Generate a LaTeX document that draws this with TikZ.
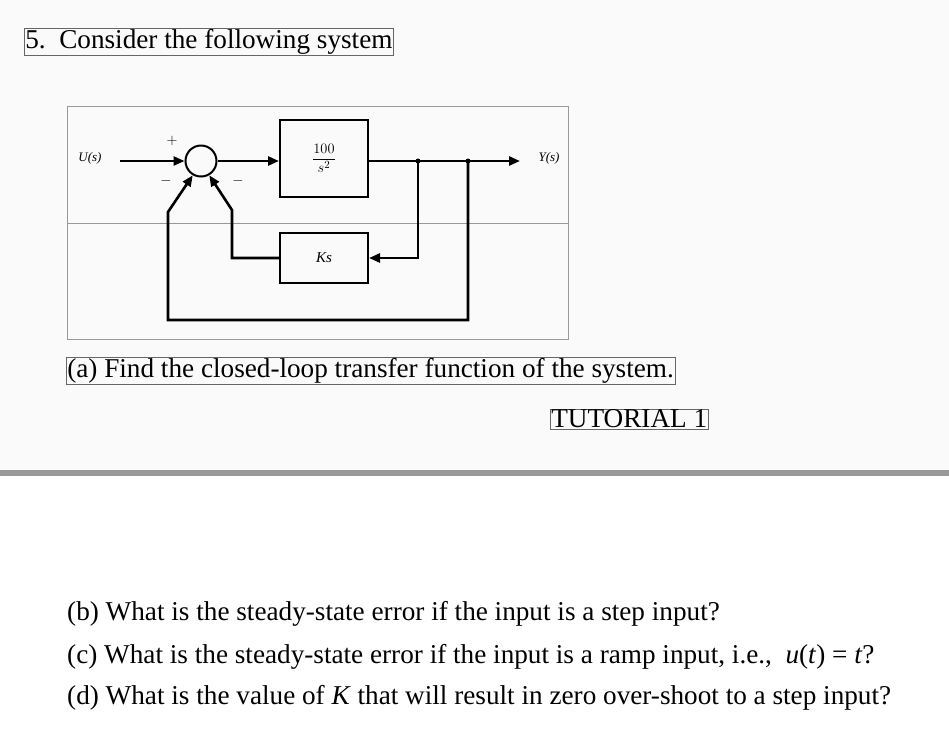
\documentclass[tikz,border=0pt]{standalone}
\usepackage{fontspec}
\setmainfont{Liberation Serif}
\usetikzlibrary{arrows.meta}
\begin{document}
\begin{tikzpicture}[x=1pt,y=-1pt,
  txt/.style={inner sep=1pt,anchor=west,font=\fontsize{27.2}{30}\selectfont},
  boxed/.style={txt,draw=black!60,line width=0.6pt},
  blk/.style={draw,line width=2pt,minimum width=88pt,inner sep=0pt,font=\fontsize{15}{17}\selectfont},
  sig/.style={line width=2.6pt},
  arr/.style={sig,-{Triangle[length=11pt,width=9pt]}},
  lbl/.style={font=\fontsize{13}{15}\selectfont\itshape}]
\useasboundingbox (0,0) rectangle (949,748);
\fill[black!2] (0,0) rectangle (949,470);
\fill[black!40] (0,470) rectangle (949,476);
\node[boxed] (t5) at (24,42) {5.\ \ Consider the following system};
\draw[black!40,line width=0.6pt] (67,106) rectangle (568,339);
\draw[black!40,line width=0.8pt] (67,223) -- (568,223);
\node[circle,draw,line width=2pt,minimum size=31pt,inner sep=0pt] (sum) at (201,161) {};
\node[blk,minimum height=77pt] (G) at (324,158.5) {$\displaystyle\frac{100}{s^2}$};
\node[blk,minimum height=50pt] (H) at (324,258) {\textit{Ks}};
\node[lbl] (U) at (90,158) {U(s)};
\node[lbl] (Y) at (549,158) {Y(s)};
\node[font=\Large] (pl) at (172,141) {$+$};
\node[font=\Large] (m1) at (166,181) {$-$};
\node[font=\Large] (m2) at (238,181) {$-$};
\coordinate (b1) at (418,161);
\coordinate (b2) at (468,161);
\coordinate (yend) at (520,161);
\draw[arr] (120,161) -- (sum.west);
\draw[arr] (sum.east) -- (G.west |- sum.east);
\draw[arr] (G.east |- b1) -- (yend);
\draw[arr] (b1) |- (H.east);
\draw[arr] (H.west) -- (232,258) -- (232,210) -- (sum.-60);
\draw[arr] (b2) -- (468,320) -- (168,320) -- (168,212) -- (sum.-120);
\fill (b1) circle (2.5pt) (b2) circle (2.5pt);
\node[boxed] (qa) at (66,370.5) {(a) Find the closed-loop transfer function of the system.};
\node[boxed] (tut) at (550,419) {TUTORIAL 1};
\node[txt] (qb) at (66,614) {(b) What is the steady-state error if the input is a step input?};
\node[txt] (qc) at (66,657) {(c) What is the steady-state error if the input is a ramp input, i.e.,\ \ \textit{u}(\textit{t}) = \textit{t}?};
\node[txt] (qd) at (66,698) {(d) What is the value of \textit{K} that will result in zero over-shoot to a step input?};
\end{tikzpicture}
\end{document}
